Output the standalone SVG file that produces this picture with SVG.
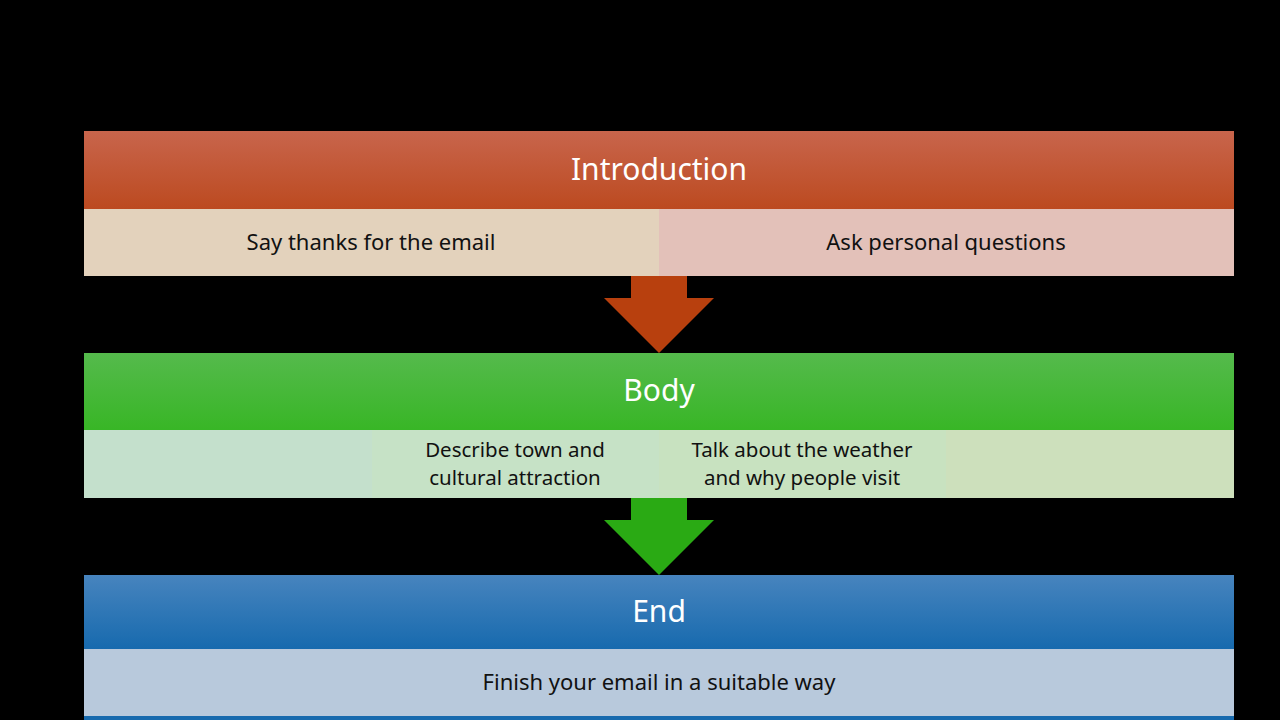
<svg xmlns="http://www.w3.org/2000/svg" width="1280" height="720" viewBox="0 0 1280 720">
<defs>
<linearGradient id="gr" x1="0" y1="0" x2="0" y2="1"><stop offset="0" stop-color="#c8654c"/><stop offset="1" stop-color="#bc4a20"/></linearGradient>
<linearGradient id="gg" x1="0" y1="0" x2="0" y2="1"><stop offset="0" stop-color="#55ba4c"/><stop offset="1" stop-color="#38b626"/></linearGradient>
<linearGradient id="gb" x1="0" y1="0" x2="0" y2="1"><stop offset="0" stop-color="#4784be"/><stop offset="1" stop-color="#176aae"/></linearGradient>
<style>
.h{font-family:"Noto Sans","DejaVu Sans",sans-serif;font-size:30px;fill:#fff;text-anchor:middle}
.s{font-family:"Noto Sans","DejaVu Sans",sans-serif;font-size:22px;fill:#111;text-anchor:middle}
.t{font-family:"Noto Sans","DejaVu Sans",sans-serif;font-size:20.5px;fill:#111;text-anchor:middle}
</style>
</defs>
<rect width="1280" height="720" fill="#000"/>
<g id="connectors">
<path d="M631 276H687V298H714L659 353L604 298H631Z" fill="#b8400e"/>
<path d="M631 498H687V520H714L659 575L604 520H631Z" fill="#2aaa14"/>
</g>
<g id="introduction">
<rect x="84" y="131" width="1150" height="78" fill="url(#gr)"/>
<text class="h" x="659" y="180">Introduction</text>
</g>
<g id="intro-thanks">
<rect x="84" y="209" width="575" height="67" fill="#e3d2bc"/>
<text class="s" x="371" y="250">Say thanks for the email</text>
</g>
<g id="intro-questions">
<rect x="659" y="209" width="575" height="67" fill="#e3c1b9"/>
<text class="s" x="946" y="250">Ask personal questions</text>
</g>
<g id="body">
<rect x="84" y="353" width="1150" height="77" fill="url(#gg)"/>
<text class="h" x="659" y="401">Body</text>
</g>
<g id="body-row">
<rect x="84" y="430" width="288" height="68" fill="#c4e0cc"/>
<rect x="946" y="430" width="288" height="68" fill="#cde0bc"/>
</g>
<g id="body-town">
<rect x="372" y="430" width="287" height="68" fill="#c6e2c6"/>
<text class="t" x="515" y="457">Describe town and</text>
<text class="t" x="515" y="485">cultural attraction</text>
</g>
<g id="body-weather">
<rect x="659" y="430" width="287" height="68" fill="#c8e2c0"/>
<text class="t" x="802" y="457">Talk about the weather</text>
<text class="t" x="802" y="485">and why people visit</text>
</g>
<g id="end">
<rect x="84" y="575" width="1150" height="74" fill="url(#gb)"/>
<text class="h" x="659" y="622">End</text>
</g>
<g id="end-finish">
<rect x="84" y="649" width="1150" height="67" fill="#b8c9dc"/>
<rect x="84" y="716" width="1150" height="4" fill="#176aae"/>
<text class="s" x="659" y="690">Finish your email in a suitable way</text>
</g>
</svg>
